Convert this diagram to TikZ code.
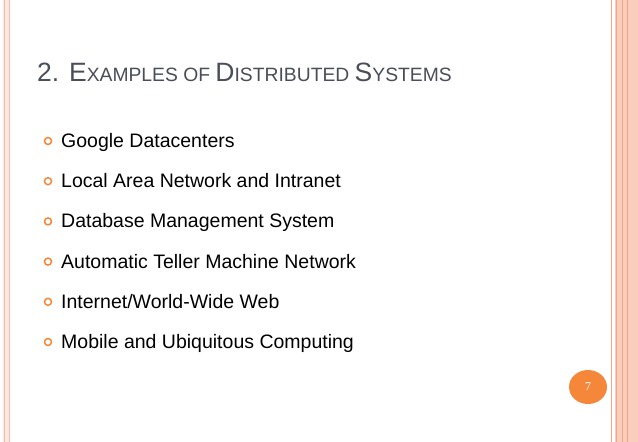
\documentclass[tikz,border=0pt]{standalone}
\usepackage{fontspec}
\usetikzlibrary{shapes.geometric}
\setmainfont{Liberation Sans}
\newfontfamily\serifnum{Liberation Serif}
\definecolor{ttl}{HTML}{4A4E58}
\definecolor{org}{HTML}{F5873A}
\definecolor{bnd}{HTML}{FBCDBD}
\definecolor{bln}{HTML}{F2A488}
\begin{document}
\begin{tikzpicture}[x=1pt,y=-1pt,
  item/.style={anchor=base west,font=\fontsize{19.5}{21}\selectfont,inner sep=0},
  bul/.style={draw=org,line width=1.5pt,circle,minimum size=7pt,inner sep=0}]
\fill[white] (0,0) rectangle (638,442);
\useasboundingbox (0,0) rectangle (638,442);
\fill[bnd!45] (3,0) rectangle (10,442);
\draw[bln!70,line width=0.5pt] (4,0)--(4,442) (9,0)--(9,442);
\draw[bln,line width=0.8pt] (611,0)--(611,442);
\fill[bnd] (615,0) rectangle (638,442);
\draw[bln,line width=0.8pt] (616,0)--(616,442) (622,0)--(622,442) (627,0)--(627,442);
\node[anchor=base west,text=ttl,inner sep=0] (title) at (37,81)
 {\fontsize{26.5}{28}\selectfont 2. E\fontsize{19.3}{21}\selectfont XAMPLES OF \fontsize{26.5}{28}\selectfont D\fontsize{19.3}{21}\selectfont ISTRIBUTED \fontsize{26.5}{28}\selectfont S\fontsize{19.3}{21}\selectfont YSTEMS};
\foreach \t [count=\i] in {Google Datacenters,Local Area Network and Intranet,Database Management System,Automatic Teller Machine Network,Internet/World-Wide Web,Mobile and Ubiquitous Computing}{
  \node[item] (t\i) at (61,{147.5+40.2*(\i-1)}) {\t};
  \node[bul] (b\i) at (48,{141+40.2*(\i-1)}) {};
}
\node[ellipse,fill=org,minimum width=38pt,minimum height=34pt,inner sep=0,text=white,font=\serifnum\fontsize{12}{12}\selectfont] (pg) at (588,387) {7};
\end{tikzpicture}
\end{document}
